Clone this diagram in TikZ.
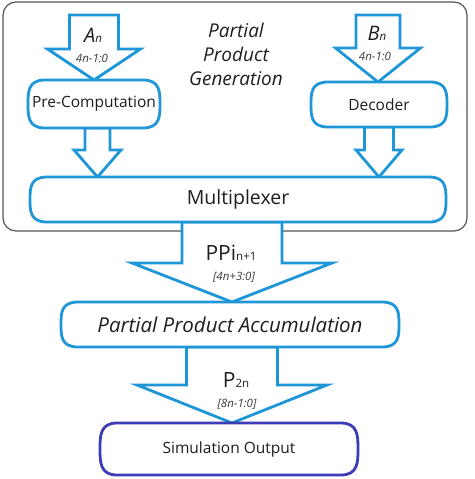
\documentclass[tikz,border=0pt]{standalone}
\usepackage{fontspec}
\setmainfont{Open Sans}
\usetikzlibrary{calc}
\pgfdeclarelayer{background}
\pgfsetlayers{background,main}
\definecolor{flowblue}{RGB}{30,150,215}
\definecolor{simblue}{RGB}{60,60,185}
\definecolor{framegray}{RGB}{85,85,85}
\definecolor{labelgray}{RGB}{60,60,60}
\definecolor{textdark}{RGB}{30,30,30}
\newcommand\fs[1]{\fontsize{#1}{#1}\selectfont}
% fat block arrow: #1 start point, #2 target node anchor, #3 shaft half width, #4 head half width, #5 head length
\newcommand\fatarrow[5]{%
  \path #1 coordinate (fa-s);
  \path (fa-s |- #2) coordinate (fa-e);
  \draw[arrowline] ($(fa-s)+(-#3,0)$) -- ($(fa-e)+(-#3,-#5)$) -- ($(fa-e)+(-#4,-#5)$) -- (fa-e)
     -- ($(fa-e)+(#4,-#5)$) -- ($(fa-e)+(#3,-#5)$) -- ($(fa-s)+(#3,0)$) -- cycle;}
% box with rounded corners and slightly bulging sides: #1 style, #2 node, #3 corner, #4 bulge
\newcommand\bulgebox[4][boxline]{%
  \draw[#1] ($(#2.north west)+(#3,0)$) -- ($(#2.north east)+(-#3,0)$)
    .. controls ($(#2.north east)+(#4,0)$) and ($(#2.north east)!0.5!(#2.east)+(#4,0)$) .. ($(#2.east)+(#4,0)$)
    .. controls ($(#2.south east)!0.5!(#2.east)+(#4,0)$) and ($(#2.south east)+(#4,0)$) .. ($(#2.south east)+(-#3,0)$)
    -- ($(#2.south west)+(#3,0)$)
    .. controls ($(#2.south west)+(-#4,0)$) and ($(#2.south west)!0.5!(#2.west)+(-#4,0)$) .. ($(#2.west)+(-#4,0)$)
    .. controls ($(#2.north west)!0.5!(#2.west)+(-#4,0)$) and ($(#2.north west)+(-#4,0)$) .. cycle;}
\tikzset{
  boxline/.style={draw=flowblue, line width=2.8pt, fill=white, line join=round},
  simline/.style={draw=simblue, line width=2.8pt, fill=white, line join=round},
  arrowline/.style={draw=flowblue, line width=2.8pt, fill=white, line join=miter},
  boxnode/.style={inner sep=0pt, outer sep=0pt, text=textdark},
  lbl/.style={inner sep=0pt, anchor=base, text=textdark},
  bits/.style={inner sep=0pt, anchor=base, text=labelgray, font=\fs{11.5}\itshape},
}
\begin{document}
\begin{tikzpicture}[x=1pt, y=-1pt]
\useasboundingbox (0,0) rectangle (474,479);
% boxes
\node[boxnode, minimum width=124pt, minimum height=48pt, font=\fs{15.5}] (pre) at (94,104) {Pre-Computation};
\node[boxnode, minimum width=128pt, minimum height=45pt, font=\fs{15.5}] (dec) at (379,104.5) {Decoder};
\node[boxnode, minimum width=408pt, minimum height=45pt, font=\fs{19.5}] (mux) at (238,199.5) {Multiplexer};
\node[boxnode, minimum width=330pt, minimum height=45pt, font=\fs{20.5}\itshape] (acc) at (230,324.5) {Partial Product Accumulation};
\node[boxnode, minimum width=250pt, minimum height=52pt, font=\fs{15.5}] (sim) at (229,449) {Simulation Output};
% title
\node[lbl, font=\fs{19}\itshape] (t1) at (236,37) {Partial};
\node[lbl, font=\fs{19}\itshape] (t2) at (236,61) {Product};
\node[lbl, font=\fs{19}\itshape] (t3) at (236,85) {Generation};
% arrow labels
\node[lbl, font=\fs{20}\itshape] (la) at (93,42) {A{\fs{11.5}n}};
\node[bits] (lab) at (92,62) {4n-1:0};
\node[lbl, font=\fs{20}\itshape] (lb) at (377,40) {B{\fs{11.5}n}};
\node[bits] (lbb) at (375,60) {4n-1:0};
\node[lbl, font=\fs{21}] (lpp) at (231,260) {PPi{\fs{11.5}n+1}};
\node[bits] (lppb) at (234,280) {[4n+3:0]};
\node[lbl, font=\fs{21}] (lp) at (236,387) {P{\fs{11.5}2n}};
\node[bits] (lpb) at (237,407) {[8n-1:0]};
% input points
\coordinate (ina) at (94,15);
\coordinate (inb) at (378,15);
\begin{pgfonlayer}{background}
  \draw[framegray, line width=1.2pt, rounded corners=13pt] (3,2) rectangle (467,231);
  \fatarrow{(ina)}{pre.north}{24.5}{46.5}{31}
  \fatarrow{(inb)}{dec.north}{22}{42.5}{34}
  \fatarrow{($(pre.south)+(3.5,0)$)}{mux.north}{12.5}{23.5}{27}
  \fatarrow{(dec.south)}{mux.north}{14.5}{23}{27}
  \fatarrow{($(mux.south)+(-6,0)$)}{acc.north}{50}{100}{39}
  \fatarrow{($(acc.south)+(2,0)$)}{sim.north}{45.5}{95}{38}
  \bulgebox{pre}{13}{4}
  \bulgebox{dec}{13}{4}
  \bulgebox{mux}{13}{4}
  \bulgebox{acc}{13}{4}
  \bulgebox[simline]{sim}{13}{4}
\end{pgfonlayer}
\end{tikzpicture}
\end{document}
